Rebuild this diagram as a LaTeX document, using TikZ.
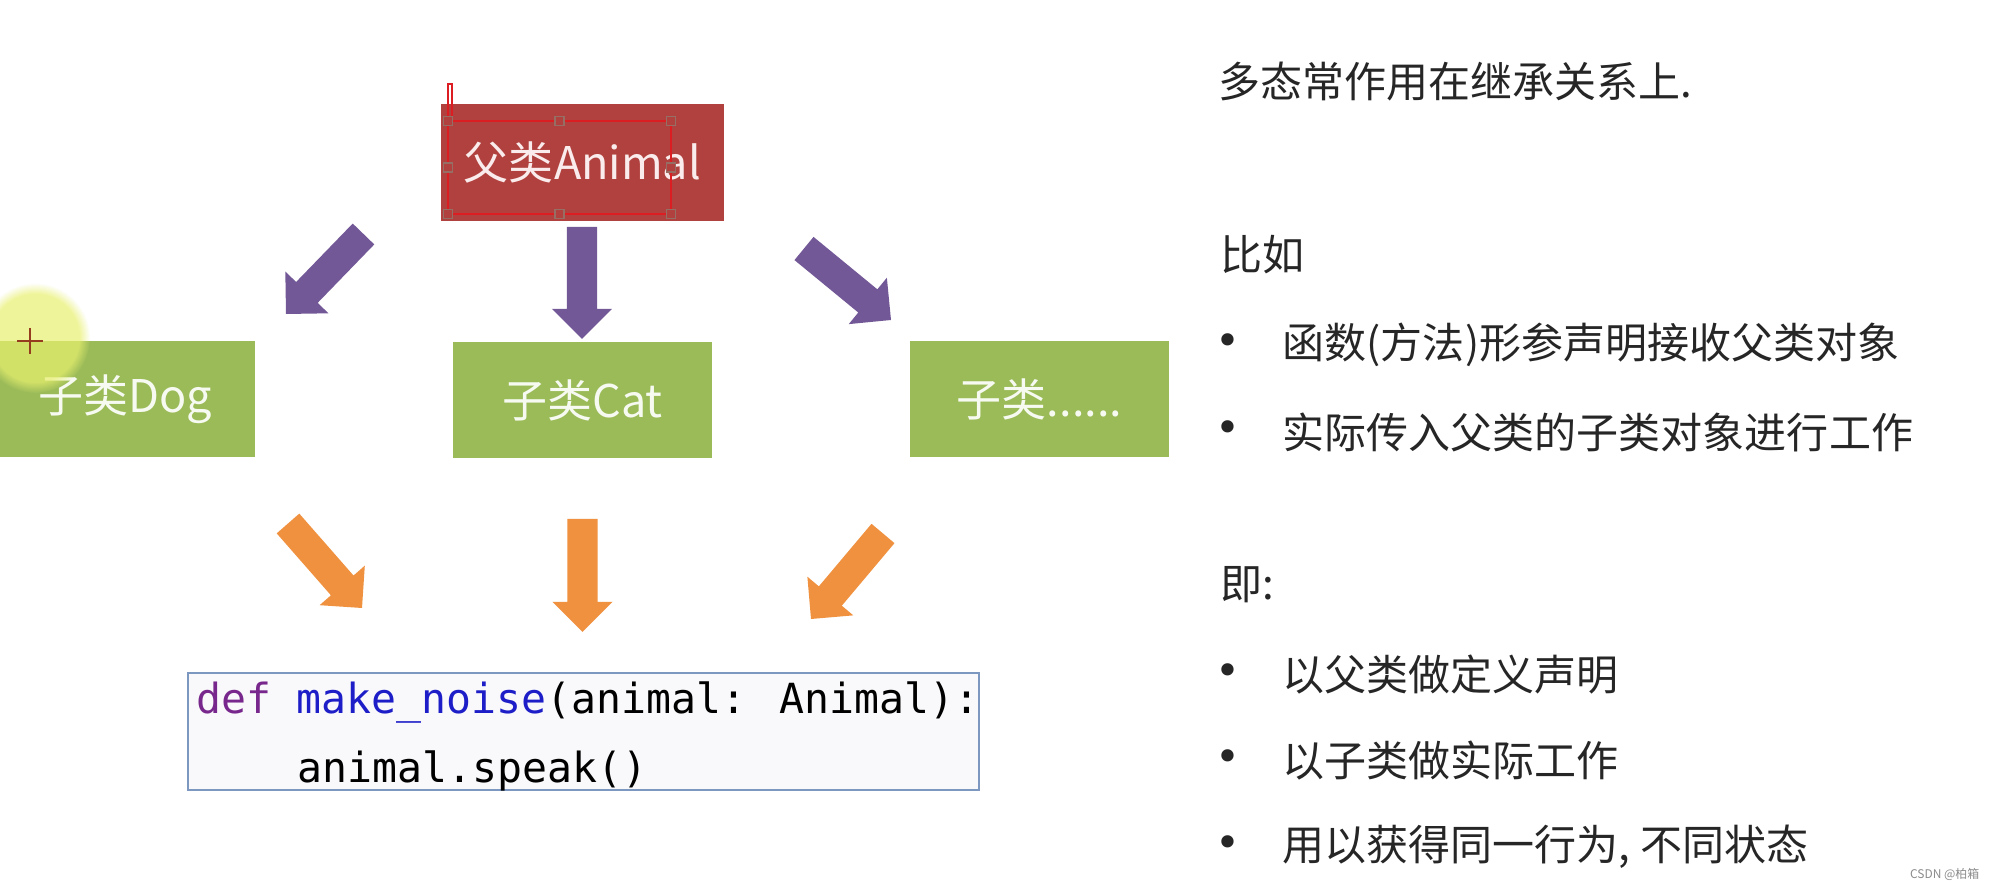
\documentclass[tikz,border=0pt]{standalone}
\usepackage{fontspec}
\setmainfont{Noto Sans CJK SC}
\newfontfamily\codefont{DejaVu Sans Mono}
\newfontfamily\bulletfont{DejaVu Sans}
\usetikzlibrary{calc,fadings}
\definecolor{animalred}{RGB}{176,65,62}
\definecolor{childgreen}{RGB}{155,187,89}
\definecolor{arrpurple}{RGB}{114,88,150}
\definecolor{arrorange}{RGB}{239,145,62}
\definecolor{selred}{RGB}{220,30,35}
\definecolor{handlebrown}{RGB}{150,110,100}
\definecolor{bodygray}{RGB}{38,38,38}
\definecolor{kwpurple}{RGB}{120,40,140}
\definecolor{fnblue}{RGB}{30,30,200}
\definecolor{codeborder}{RGB}{125,152,192}
\definecolor{codefill}{RGB}{249,249,251}
\definecolor{glowyellow}{RGB}{232,240,110}
\definecolor{cursorred}{RGB}{150,60,30}
\definecolor{markgray}{RGB}{140,140,140}
\newcommand\blockarr[4]{% #1 style, #2 tail, #3 tip, #4 prefix
  \coordinate (#4h) at ($(#3)!0.30cm!(#2)$);
  \fill[#1] ($(#2)!0.15cm!90:(#3)$) -- ($(#4h)!0.15cm!90:(#3)$)
    -- ($(#4h)!0.30cm!90:(#3)$) -- (#3)
    -- ($(#4h)!0.30cm!-90:(#3)$) -- ($(#4h)!0.15cm!-90:(#3)$)
    -- ($(#2)!0.15cm!-90:(#3)$) -- cycle;
}
\tikzset{
  parentbox/.style={fill=animalred, minimum width=2.83cm, minimum height=1.17cm,
    inner sep=0pt, text={rgb,255:red,250;green,236;blue,236},
    font=\fontsize{12.8pt}{15pt}\selectfont},
  childbox/.style={fill=childgreen, minimum width=2.59cm, minimum height=1.16cm,
    inner sep=0pt, text={rgb,255:red,246;green,250;blue,240},
    font=\fontsize{12.8pt}{15pt}\selectfont},
  bodytext/.style={anchor=west, inner sep=0pt, text=bodygray,
    font=\fontsize{11.95pt}{14pt}\selectfont},
  bulletdot/.style={anchor=center, inner sep=0pt, text=bodygray,
    font=\bulletfont\fontsize{12pt}{14pt}\selectfont},
  codeline/.style={anchor=base west, inner sep=0pt, text=black,
    font=\codefont\fontsize{11.8pt}{14pt}\selectfont},
  codebox/.style={draw=codeborder, line width=0.6pt, fill=codefill,
    minimum width=7.91cm, minimum height=1.17cm, inner sep=0pt},
  handle/.style={draw=handlebrown, line width=0.45pt, fill=animalred,
    minimum size=0.09cm, inner sep=0pt},
  purplearr/.style={fill=arrpurple},
  orangearr/.style={fill=arrorange},
}
\begin{document}
\begin{tikzpicture}[x=0.01cm,y=-0.01cm]
\useasboundingbox (0,0) rectangle (1996,889);
\fill[white] (0,0) rectangle (1996,889);

% parent class box with selection frame
\node[parentbox] (animal) at (582.5,162.5) {父类Animal};
\draw[selred, line width=0.6pt] (448,121) rectangle (671,214);
\draw[selred, line width=0.5pt] (448,84) rectangle (452,117);
\foreach \hx/\hy [count=\i] in {448/121,559.5/121,671/121,448/167.5,671/167.5,448/214,559.5/214,671/214}
  \node[handle] (h\i) at (\hx,\hy) {};

% child class boxes
\node[childbox] (dog) at (125.5,399) {子类Dog};
\node[childbox] (cat) at (582.5,400) {子类Cat};
\node[childbox] (more) at (1039.5,399) {子类......};

% cursor glow and cross
\fill[glowyellow, fill opacity=0.7, path fading=circle with fuzzy edge 20 percent] (35,338) circle (55);
\draw[cursorred, line width=0.55pt] (17,341) -- (43,341) (30,328) -- (30,354);

% purple arrows
\coordinate (p1t) at (363.5,234); \coordinate (p1h) at (286,314);
\coordinate (p2t) at (582,227);   \coordinate (p2h) at (582,339);
\coordinate (p3t) at (804,248.5); \coordinate (p3h) at (891,320);
\blockarr{purplearr}{p1t}{p1h}{pa}
\blockarr{purplearr}{p2t}{p2h}{pb}
\blockarr{purplearr}{p3t}{p3h}{pc}

% orange arrows
\coordinate (o1t) at (288,523.5); \coordinate (o1h) at (362,608);
\coordinate (o2t) at (582.5,519); \coordinate (o2h) at (582.5,632);
\coordinate (o3t) at (883,533.5); \coordinate (o3h) at (811,619);
\blockarr{orangearr}{o1t}{o1h}{oa}
\blockarr{orangearr}{o2t}{o2h}{ob}
\blockarr{orangearr}{o3t}{o3h}{oc}

% code box
\node[codebox] (code) at (583.5,731.5) {};
\node[codeline] (code1) at (196,714) {{\color{kwpurple}def} {\color{fnblue}make\_noise}(animal: Animal):};
\node[codeline] (code2) at (297,783) {animal.speak()};

% right-hand text
\node[bodytext] (t1) at (1218,82) {多态常作用在继承关系上.};
\node[bodytext] (t2) at (1220,255) {比如};
\node[bulletdot] (b1) at (1228,345) {•};
\node[bodytext] (t3) at (1282,345) {函数(方法)形参声明接收父类对象};
\node[bulletdot] (b2) at (1228,432) {•};
\node[bodytext] (t4) at (1282,432) {实际传入父类的子类对象进行工作};
\node[bodytext] (t5) at (1220,585) {即:};
\node[bulletdot] (b3) at (1228,675) {•};
\node[bodytext] (t6) at (1282,675) {以父类做定义声明};
\node[bulletdot] (b4) at (1228,761) {•};
\node[bodytext] (t7) at (1282,761) {以子类做实际工作};
\node[bulletdot] (b5) at (1228,847) {•};
\node[bodytext] (t8) at (1282,847) {用以获得同一行为, 不同状态};

% watermark
\node[anchor=east, inner sep=0pt, text=markgray, font=\fontsize{3.4pt}{4pt}\selectfont] (mark) at (1980,874) {CSDN @柏箱};
\end{tikzpicture}
\end{document}
